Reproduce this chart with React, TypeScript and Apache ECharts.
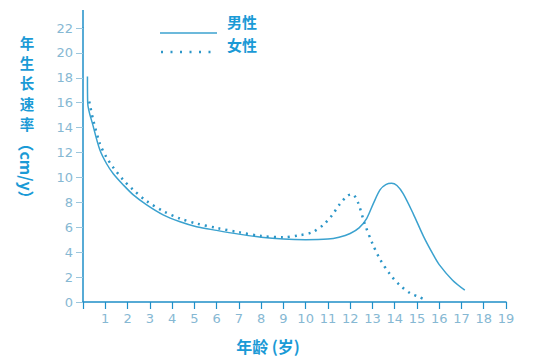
import React, { useEffect, useRef } from "react";
import * as echarts from "echarts";

const xTicks = [0, 1, 2, 3, 4, 5, 6, 7, 8, 9, 10, 11, 12, 13, 14, 15, 16, 17, 18, 19];
const yTicks = [0, 2, 4, 6, 8, 10, 12, 14, 16, 18, 20, 22];

const maleData: [number, number][] = [
  [0.2, 18.1], [0.21, 16.0], [0.46, 14.1], [0.76, 12.2], [1.06, 11.1], [1.36, 10.3],
  [1.81, 9.4], [2.26, 8.6], [2.86, 7.8], [3.6, 7.0], [4.36, 6.45], [5.1, 6.05],
  [6, 5.75], [7, 5.45], [8, 5.2], [9, 5.05], [10, 5.0], [11, 5.05], [11.5, 5.2],
  [12, 5.5], [12.4, 5.95], [12.74, 6.7], [13.04, 7.9], [13.34, 9.0], [13.6, 9.42],
  [13.86, 9.53], [14.1, 9.35], [14.38, 8.7], [14.83, 7.1], [15.3, 5.25],
  [15.7, 3.9], [16.0, 3.0], [16.6, 1.75], [17.15, 0.95],
];

const femaleData: [number, number][] = [
  [0.28, 16.1], [0.46, 14.6], [0.76, 12.7], [1.06, 11.6], [1.36, 10.8], [1.81, 9.8],
  [2.26, 9.0], [2.86, 8.1], [3.6, 7.3], [4.36, 6.7], [5.1, 6.3], [6, 5.95],
  [7, 5.6], [8, 5.3], [9, 5.2], [9.7, 5.35], [10.3, 5.6], [10.8, 6.2], [11.2, 7.0],
  [11.55, 7.9], [11.9, 8.55], [12.1, 8.65], [12.35, 8.0], [12.65, 6.3], [13.0, 4.7],
  [13.35, 3.4], [13.8, 2.2], [14.2, 1.4], [14.7, 0.7], [15.1, 0.4], [15.4, 0.15],
];

const seriesNames = ["男性", "女性"];
const yAxisTitleChars = ["年", "生", "长", "速", "率"];
const yAxisUnit = "（cm/y）";
const xAxisTitle = "年龄 (岁)";

const AXIS_COLOR = "#1f8fc8";
const LABEL_COLOR = "#86b8d3";
const LINE_COLOR = "#3ba2cf";
const DOT_COLOR = "#2c96c8";
const TITLE_COLOR = "#1a9ad6";

export default function App() {
  const ref = useRef<HTMLDivElement>(null);
  useEffect(() => {
    if (!ref.current) return;
    const chart = echarts.init(ref.current, undefined, { renderer: "svg" });
    const charFont = "bold 14.5px 'Noto Sans CJK SC'";
    const unitFont = "bold 16px 'Noto Sans CJK SC'";
    const charTexts = yAxisTitleChars.map((c, i) => ({
      type: "text",
      x: 27,
      y: 42 + i * 20.4,
      style: {
        text: c, fill: TITLE_COLOR, font: charFont, lineHeight: 17,
        align: "center", verticalAlign: "middle",
      },
    }));
    chart.setOption({
      animation: false,
      backgroundColor: "#ffffff",
      grid: { left: 83, right: 34, top: 28, bottom: 59, containLabel: false },
      xAxis: {
        type: "value",
        min: xTicks[0],
        max: xTicks[xTicks.length - 1],
        interval: 1,
        axisLine: { show: true, lineStyle: { color: AXIS_COLOR, width: 1.5 } },
        axisTick: { show: true, length: 7, lineStyle: { color: AXIS_COLOR, width: 1.2 } },
        axisLabel: {
          color: LABEL_COLOR,
          fontSize: 13,
          fontFamily: "DejaVu Sans",
          margin: 10,
          formatter: (v: number) => (v === 0 ? "" : String(v)),
        },
        splitLine: { show: false },
      },
      yAxis: {
        type: "value",
        min: yTicks[0],
        max: yTicks[yTicks.length - 1],
        interval: 2,
        axisLine: { show: true, lineStyle: { color: AXIS_COLOR, width: 1.5 } },
        axisTick: { show: true, length: 7, lineStyle: { color: "#9cc6dc", width: 1 } },
        axisLabel: {
          color: LABEL_COLOR,
          fontSize: 13,
          fontFamily: "DejaVu Sans",
          margin: 10,
        },
        splitLine: { show: false },
      },
      series: [
        {
          name: seriesNames[0],
          type: "line",
          data: maleData,
          smooth: 0.3,
          showSymbol: false,
          lineStyle: { color: LINE_COLOR, width: 1.5 },
        },
        {
          name: seriesNames[1],
          type: "line",
          data: femaleData,
          smooth: 0.3,
          showSymbol: false,
          lineStyle: { color: DOT_COLOR, width: 2.5, type: [2, 5] },
        },
      ],
      graphic: [
        { type: "line", shape: { x1: 83, y1: 10, x2: 83, y2: 28 }, style: { stroke: AXIS_COLOR, lineWidth: 1.5 } },
        { type: "line", shape: { x1: 160, y1: 33, x2: 217, y2: 33 }, style: { stroke: LINE_COLOR, lineWidth: 1.5 } },
        { type: "text", x: 227, y: 21, style: { text: seriesNames[0], fill: TITLE_COLOR, font: "bold 15px 'Noto Sans CJK SC'", verticalAlign: "middle" } },
        { type: "line", shape: { x1: 161, y1: 52, x2: 217, y2: 52 }, style: { stroke: DOT_COLOR, lineWidth: 2.5, lineDash: [2, 7.5] } },
        { type: "text", x: 227, y: 44, style: { text: seriesNames[1], fill: TITLE_COLOR, font: "bold 15px 'Noto Sans CJK SC'", verticalAlign: "middle" } },
        ...charTexts,
        {
          type: "text", x: 27, y: 171, rotation: -Math.PI / 2,
          style: { text: yAxisUnit, fill: TITLE_COLOR, font: unitFont, align: "center", verticalAlign: "middle" },
        },
        {
          type: "text", x: 268, y: 346,
          style: { text: xAxisTitle, fill: TITLE_COLOR, font: "bold 16px 'Noto Sans CJK SC'", align: "center", verticalAlign: "middle" },
        },
      ],
    });
    return () => chart.dispose();
  }, []);
  return <div ref={ref} style={{ width: 540, height: 361, position: "absolute", left: 0, top: 0 }} />;
}
